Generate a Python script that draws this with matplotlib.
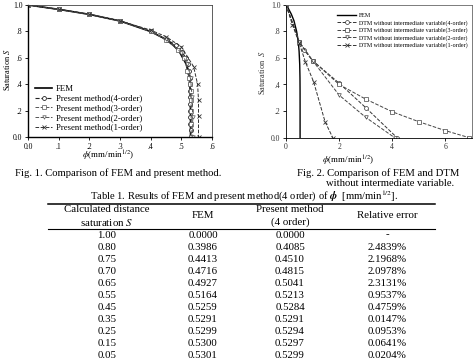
import numpy as np
import matplotlib
matplotlib.use('Agg')
import matplotlib.pyplot as plt
from matplotlib.lines import Line2D

plt.rcParams['font.family'] = ['Liberation Serif', 'DejaVu Serif']
plt.rcParams['mathtext.fontset'] = 'stix'

W, H = 474, 362

# ---------------- data: Fig. 1 ----------------
phi_fem = [0, 0.1, 0.2, 0.3, 0.3986, 0.4413, 0.4716, 0.4927, 0.5164, 0.5259, 0.5291, 0.5299, 0.5300, 0.5301, 0.5301]
s_fem = [1.0, 0.967, 0.929, 0.879, 0.80, 0.75, 0.70, 0.65, 0.55, 0.45, 0.35, 0.25, 0.15, 0.05, 0.0]

phi_4 = [0, 0.1, 0.2, 0.3, 0.4, 0.452, 0.4815, 0.501, 0.515, 0.5213, 0.5255, 0.5284, 0.5289, 0.5291, 0.5293, 0.5294, 0.5296, 0.5297, 0.5298, 0.5299, 0.5300]
s_4 = [1.0, 0.967, 0.929, 0.879, 0.805, 0.735, 0.70, 0.646, 0.60, 0.55, 0.50, 0.45, 0.40, 0.35, 0.30, 0.25, 0.20, 0.15, 0.10, 0.05, 0.0]

phi_3 = [0, 0.1, 0.2, 0.3, 0.4, 0.45, 0.49, 0.51, 0.52, 0.525, 0.528, 0.53, 0.531, 0.532, 0.532, 0.532]
s_3 = [1.0, 0.967, 0.929, 0.879, 0.80, 0.735, 0.66, 0.60, 0.50, 0.45, 0.40, 0.35, 0.28, 0.20, 0.10, 0.0]

phi_2 = [0, 0.1, 0.2, 0.3, 0.4, 0.45, 0.5, 0.52, 0.53, 0.535, 0.537, 0.537]
s_2 = [1.0, 0.967, 0.93, 0.88, 0.80, 0.74, 0.64, 0.55, 0.45, 0.30, 0.15, 0.0]

phi_1 = [0, 0.1, 0.2, 0.3, 0.4, 0.45, 0.5, 0.54, 0.553, 0.556, 0.556, 0.556]
s_1 = [1.0, 0.967, 0.93, 0.88, 0.81, 0.76, 0.684, 0.533, 0.40, 0.28, 0.16, 0.0]

# ---------------- data: Fig. 2 ----------------
dphi_4 = [0, 0.5, 0.68, 1.0, 2.0, 3.0, 4.18]
ds_4 = [1.0, 0.72, 0.66, 0.58, 0.41, 0.226, 0.0]
dphi_3 = [0, 0.5, 1.0, 2.0, 3.0, 4.0, 5.0, 6.0, 6.9]
ds_3 = [1.0, 0.72, 0.58, 0.40, 0.29, 0.195, 0.12, 0.053, 0.0]
dphi_2 = [0, 0.5, 1.0, 2.0, 3.0, 4.09]
ds_2 = [1.0, 0.72, 0.58, 0.32, 0.153, 0.0]
dphi_1 = [0, 0.24, 0.5, 0.73, 1.04, 1.47, 1.76]
ds_1 = [1.0, 0.85, 0.71, 0.57, 0.42, 0.12, 0.0]

# ---------------- data: Table 1 ----------------
tab_s = ['1.00', '0.80', '0.75', '0.70', '0.65', '0.55', '0.45', '0.35', '0.25', '0.15', '0.05']
tab_fem = ['0.0000', '0.3986', '0.4413', '0.4716', '0.4927', '0.5164', '0.5259', '0.5291', '0.5299', '0.5300', '0.5301']
tab_pm = ['0.0000', '0.4085', '0.4510', '0.4815', '0.5041', '0.5213', '0.5284', '0.5291', '0.5294', '0.5297', '0.5299']
tab_err = ['-', '2.4839%', '2.1968%', '2.0978%', '2.3131%', '0.9537%', '0.4759%', '0.0147%', '0.0953%', '0.0641%', '0.0204%']


def px(x, y):
    return x / W, 1 - y / H


fig = plt.figure(figsize=(W / 100, H / 100), dpi=100)

tick_fs = 5.5

# ---------------- Fig. 1 ----------------
ax1 = fig.add_axes([28 / W, 1 - 137 / H, 184 / W, 132 / H])
ax1.plot(phi_fem, s_fem, '-', color='black', lw=1.2, label='FEM')
ax1.plot(phi_4, s_4, '--', color='#222222', lw=0.8, marker='o', ms=2.8, mfc='white', mew=0.6,
         label='Present method(4-order)')
ax1.plot(phi_3, s_3, '--', color='#555555', lw=0.7, marker='s', ms=2.5, mfc='white', mew=0.5,
         label='Present method(3-order)')
ax1.plot(phi_2, s_2, '--', color='#555555', lw=0.7, marker='v', ms=2.5, mfc='white', mew=0.5,
         label='Present method(2-order)')
ax1.plot(phi_1, s_1, '--', color='#333333', lw=0.7, marker='x', ms=2.5, mew=0.6,
         label='Present method(1-order)')
ax1.set_xlim(0, 0.6)
ax1.set_ylim(0, 1.0)
ax1.set_xticks([0, 0.1, 0.2, 0.3, 0.4, 0.5, 0.6])
ax1.set_xticklabels(['0.0', '.1', '.2', '.3', '.4', '.5', '.6'])
ax1.set_yticks([0, 0.2, 0.4, 0.6, 0.8, 1.0])
ax1.set_yticklabels(['0.0', '.2', '.4', '.6', '.8', '1.0'])
ax1.tick_params(labelsize=tick_fs, length=2, width=0.6, pad=2)
for sp in ax1.spines.values():
    sp.set_linewidth(0.6)
    sp.set_color('#444444')
ax1.spines['left'].set_color('black')
ax1.spines['bottom'].set_color('black')
ax1.spines['left'].set_linewidth(1.0)
ax1.spines['bottom'].set_linewidth(1.0)
ax1.legend(loc='upper left', bbox_to_anchor=px(33, 83), bbox_transform=fig.transFigure,
           frameon=False, fontsize=6.3, handlelength=2.0, handletextpad=0.45,
           labelspacing=0.18, borderpad=0.2, borderaxespad=0)

# ---------------- Fig. 2 ----------------
ax2 = fig.add_axes([286 / W, 1 - 137.7 / H, 186 / W, 133 / H])
ax2.plot(phi_fem, s_fem, '-', color='black', lw=1.0, label='FEM')
ax2.plot(dphi_4, ds_4, '--', color='#333333', lw=0.7, marker='o', ms=2.8, mfc='white', mew=0.5,
         label='DTM without intermediate variable(4-order)')
ax2.plot(dphi_3, ds_3, '--', color='#444444', lw=0.7, marker='s', ms=2.6, mfc='white', mew=0.5,
         label='DTM without intermediate variable(3-order)')
ax2.plot(dphi_2, ds_2, '--', color='#444444', lw=0.7, marker='v', ms=2.6, mfc='white', mew=0.5,
         label='DTM without intermediate variable(2-order)')
ax2.plot(dphi_1, ds_1, '--', color='#333333', lw=0.7, marker='x', ms=2.6, mew=0.6,
         label='DTM without intermediate variable(1-order)')
ax2.set_xlim(0, 7)
ax2.set_ylim(0, 1.0)
ax2.set_xticks([0, 2, 4, 6])
ax2.set_yticks([0, 0.2, 0.4, 0.6, 0.8, 1.0])
ax2.set_yticklabels(['0.0', '.2', '.4', '.6', '.8', '1.0'])
ax2.tick_params(labelsize=tick_fs, length=2, width=0.6, pad=2, labelcolor='#333333')
for sp in ax2.spines.values():
    sp.set_linewidth(0.6)
    sp.set_color('#666666')
ax2.spines['left'].set_color('black')
ax2.spines['bottom'].set_color('black')
ax2.legend(loc='upper right', bbox_to_anchor=(1.0, 0.97), frameon=False, fontsize=4.3,
           handlelength=3.2, handletextpad=0.5, labelspacing=0.3, borderpad=0.2)

# axis labels and captions
xl = r'$\phi$(mm/min$^{1/2}$)'
fig.text(*px(108, 159), xl, fontsize=6.5, ha='center', va='baseline')
fig.text(*px(7, 70), 'Saturation $S$', fontsize=6, ha='center', va='center', rotation=90)
fig.text(*px(348, 164), xl, fontsize=6.5, ha='center', va='baseline')
fig.text(*px(262, 73), 'Saturation  $S$', fontsize=6, ha='center', va='center', rotation=90, color='#333333')

cap_fs = 7.7
fig.text(*px(118, 173), 'Fig. 1. Comparison of FEM and present method.', fontsize=cap_fs, ha='center', va='center')
fig.text(*px(378, 173), 'Fig. 2. Comparison of FEM and DTM', fontsize=cap_fs, ha='center', va='center')
fig.text(*px(390, 183.5), 'without intermediate variable.', fontsize=cap_fs, ha='center', va='center')

# ---------------- Table 1 ----------------
fig.text(*px(244, 196), r'Table 1. Results of FEM and present method(4 order) of $\boldsymbol{\phi}$  [mm/min$^{1/2}$].',
         fontsize=7.6, ha='center', va='center')
x0, x1 = 48 / W, 435 / W
fig.add_artist(Line2D([x0, x1], [1 - 203.5 / H] * 2, color='black', lw=1.1))
fig.add_artist(Line2D([x0, x1], [1 - 228.5 / H] * 2, color='black', lw=0.8))

cols = [107, 203, 290, 387]
tfs = 7.8
fig.text(*px(cols[0], 210), 'Calculated distance', fontsize=tfs, ha='center', va='center')
fig.text(*px(cols[0], 222), 'saturation $S$', fontsize=tfs, ha='center', va='center')
fig.text(*px(cols[1], 216), 'FEM', fontsize=tfs, ha='center', va='center')
fig.text(*px(cols[2], 210), 'Present method', fontsize=tfs, ha='center', va='center')
fig.text(*px(cols[2], 222), '(4 order)', fontsize=tfs, ha='center', va='center')
fig.text(*px(cols[3], 216), 'Relative error', fontsize=tfs, ha='center', va='center')

for i in range(len(tab_s)):
    y = 235 + i * 12.1
    for c, vals in zip(cols, [tab_s, tab_fem, tab_pm, tab_err]):
        fig.text(*px(c, y), vals[i], fontsize=tfs, ha='center', va='center')

fig.savefig('out.png', dpi=100)
